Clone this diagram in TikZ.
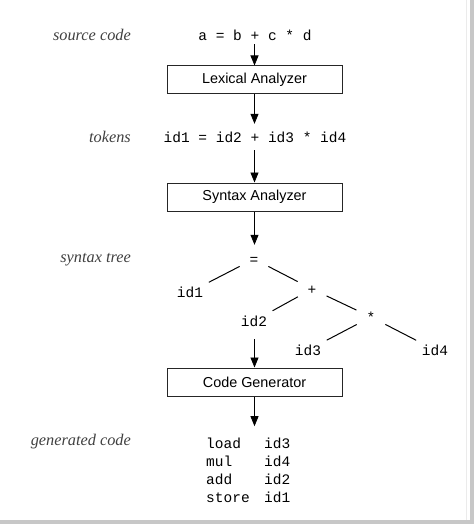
\documentclass[tikz,border=0pt]{standalone}
\usepackage{fontspec}
\setmainfont{Liberation Serif}
\setsansfont{Liberation Sans}
\setmonofont{Liberation Mono}
\usetikzlibrary{arrows.meta}
\tikzset{
  stage/.style={draw=black!85,line width=1pt,minimum width=175pt,minimum height=28pt,
    inner sep=0pt,font=\sffamily\fontsize{14.4}{17}\selectfont},
  code/.style={font=\ttfamily\fontsize{14.5}{18}\selectfont,text height=10pt,text depth=0pt},
  label/.style={anchor=base east,inner sep=0pt,font=\itshape\fontsize{16.3}{19}\selectfont,text=black!75},
  op/.style={code,circle,inner sep=0pt,minimum size=32pt},
  leaf/.style={code,circle,inner sep=0pt,minimum size=42pt},
  flow/.style={-{Triangle[length=10pt,width=8pt]},line width=0.8pt},
  branch/.style={line width=1pt}
}
\begin{document}
\begin{tikzpicture}[x=1pt,y=-1pt]
      \useasboundingbox (0,0) rectangle (474,524);
      \fill[black!22] (470,0) rectangle (474,524);
      \fill[black!22] (0,520) rectangle (474,524);
      \draw[black!8] (466,0) -- (466,520);
      \draw
        (131,40.5) node[label] (l0) {source code}
        (131,142) node[label] (l1) {tokens}
        (131,262) node[label] (l2) {syntax tree}
        (131,445) node[label] (l3) {generated code};
      \draw
        (255,40.5) node[code,anchor=base,inner sep=3.5pt] (src) {a = b + c * d}
        (254.5,80) node[stage] (lex) {Lexical Analyzer}
        (255,142) node[code,anchor=base,inner xsep=0pt,inner ysep=8pt] (tok) {id1 = id2 + id3 * id4}
        (254.5,197) node[stage] (syn) {Syntax Analyzer}
        (254.5,382) node[stage] (gen) {Code Generator};
      \draw
        (254,259) node[op] (eq) {=}
        (190,292) node[leaf] (id1) {id1}
        (312,289) node[op] (plus) {+}
        (254,321) node[leaf] (id2) {id2}
        (371,317) node[op] (star) {*}
        (308,350) node[leaf] (id3) {id3}
        (435,350) node[leaf] (id4) {id4};
      \node[anchor=base west,inner xsep=0pt,inner ysep=9pt,font=\ttfamily\fontsize{14.5}{18}\selectfont] (out) at (206,448)
        {\begin{tabular}[t]{@{}l@{\hspace{14.5pt}}l@{}}
          load & id3\\ mul & id4\\ add & id2\\ store & id1
        \end{tabular}};
      \begin{scope}[flow]
        \draw (src.south -| lex.north) -- (lex.north);
        \draw (lex.south) -- (lex.south |- tok.north);
        \draw (lex.south |- tok.south) -- (syn.north);
        \draw[shorten >=-2pt] (syn.south) -- (syn.south |- eq.north);
        \draw[shorten <=-3pt] (syn.south |- id2.south) -- (gen.north);
        \draw (gen.south) -- (gen.south |- out.north);
      \end{scope}
      \begin{scope}[branch]
        \draw (eq) to (id1);
        \draw (eq) to (plus);
        \draw (plus) to (id2);
        \draw (plus) to (star);
        \draw (star) to (id3);
        \draw (star) to (id4);
      \end{scope}
    \end{tikzpicture}
\end{document}
